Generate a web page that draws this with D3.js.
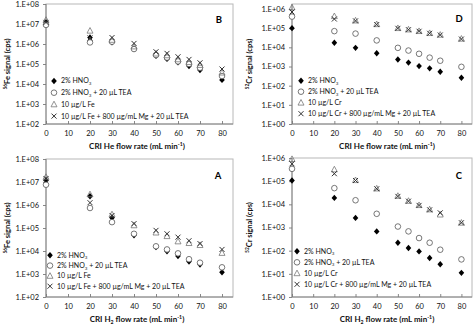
<!DOCTYPE html>
<meta charset="utf-8">
<script src="https://d3js.org/d3.v7.min.js"></script>
<style>
  body { margin: 0; background: #fff; }
  svg { font-family: Lato, "Open Sans", sans-serif; }
</style>
<div id="chart"></div>
<script>
// flow rates (mL/min) shared by every panel
const flow = [0, 20, 30, 40, 50, 55, 60, 65, 70, 80];

// 56Fe, He mode (panel B)
const feHeHno3 = [1.2e7, 2.1e6, 1.2e6, 5.8e5, 2.6e5, 1.8e5, 1.2e5, 8.0e4, 5.0e4, 1.6e4];
const feHeTea  = [9.0e6, 1.2e6, 1.3e6, 5.6e5, 2.8e5, 2.1e5, 1.35e5, 1.0e5, 6.5e4, 2.5e4];
const feHeStd  = [1.6e7, 4.6e6, 1.6e6, 7.5e5, 3.3e5, 2.7e5, 1.7e5, 1.25e5, 8.9e4, 3.7e4];
const feHeMg   = [1.2e7, 2.0e6, 2.1e6, 1.07e6, 4.1e5, 3.4e5, 2.3e5, 1.7e5, 1.15e5, 5.6e4];

// 52Cr, He mode (panel D)
const crHeHno3 = [1.0e5, 1.75e4, 9.4e3, 4.9e3, 2.3e3, 1.6e3, 1.05e3, 8.0e2, 5.3e2, 2.6e2];
const crHeTea  = [4.0e5, 7.0e4, 5.2e4, 2.3e4, 9.4e3, 6.8e3, 4.6e3, 2.9e3, 2.0e3, 9.6e2];
const crHeStd  = [1.2e6, 4.2e5, 2.5e5, 1.6e5, 1.0e5, 8.5e4, 7.0e4, 5.5e4, 4.5e4, 2.8e4];
const crHeMg   = [7.0e5, 3.0e5, 2.4e5, 1.55e5, 9.8e4, 8.3e4, 6.9e4, 5.4e4, 4.4e4, 2.7e4];

// 56Fe, H2 mode (panel A)
const feH2Hno3 = [1.2e7, 2.4e6, 2.8e5, 4.8e4, 1.5e4, 9.8e3, 6.0e3, 3.5e3, 2.6e3, 1.2e3];
const feH2Tea  = [7.6e6, 7.4e5, 1.8e5, 5.6e4, 1.6e4, 1.17e4, 7.9e3, 4.4e3, 3.1e3, 1.95e3];
const feH2Std  = [1.65e7, 2.9e6, 3.9e5, 1.3e5, 6.3e4, 4.4e4, 2.6e4, 2.2e4, 1.8e4, 8.2e3];
const feH2Mg   = [1.4e7, 1.26e6, 3.5e5, 1.55e5, 7.9e4, 5.6e4, 4.0e4, 2.8e4, 2.1e4, 1.17e4];

// 52Cr, H2 mode (panel C)
const crH2Hno3 = [1.07e5, 1.9e4, 2.6e3, 6.8e2, 2.2e2, 1.3e2, 9.3e1, 4.8e1, 2.6e1, 1.1e1];
const crH2Tea  = [3.4e5, 5.0e4, 1.5e4, 3.9e3, 1.1e3, 6.8e2, 3.5e2, 2.2e2, 1.1e2, 4.2e1];
const crH2Std  = [9.0e5, 3.2e5, 1.1e5, 4.8e4, 2.3e4, 1.4e4, 9.2e3, 6.0e3, 3.6e3, 1.6e3];
const crH2Mg   = [5.6e5, 2.1e5, 1.07e5, 4.7e4, 2.2e4, 1.37e4, 9.0e3, 5.8e3, 4.3e3, 1.6e3];

const xTicks = [0, 10, 20, 30, 40, 50, 60, 70, 80];
const feTicks = [1e2, 1e3, 1e4, 1e5, 1e6, 1e7, 1e8];
const crTicks = [1e0, 1e1, 1e2, 1e3, 1e4, 1e5, 1e6];

const feLegend = ["2% HNO_{3}", "2% HNO_{3} + 20 µL TEA", "10 µg/L Fe", "10 µg/L Fe + 800 µg/mL Mg + 20 µL TEA"];
const crLegend = ["2% HNO_{3}", "2% HNO_{3} + 20 µL TEA", "10 µg/L Cr", "10 µg/L Cr + 800 µg/mL Mg + 20 µL TEA"];
const markers = ["diamond", "circle", "triangle", "cross"];

const W = 474, H = 324;
const svg = d3.select("#chart").append("svg")
    .attr("width", W).attr("height", H);

// text with _{sub} and ^{sup} pieces; the baseline shift is undone on the next piece
function richText(sel, str, size) {
  const parts = str.split(/(_\{[^}]*\}|\^\{[^}]*\})/).filter(s => s.length);
  let shift = 0;
  parts.forEach(p => {
    let dy = 0, fs = size, txt = p;
    if (p.startsWith("_{")) { dy = size * 0.25; fs = size * 0.65; txt = p.slice(2, -1); }
    else if (p.startsWith("^{")) { dy = -size * 0.35; fs = size * 0.65; txt = p.slice(2, -1); }
    sel.append("tspan").attr("font-size", fs).attr("dy", dy - shift).text(txt);
    shift = dy;
  });
}

function drawMarker(g, type, x, y) {
  if (type === "diamond") {
    g.append("path").attr("d", `M${x},${y - 3.2}L${x + 2.8},${y}L${x},${y + 3.2}L${x - 2.8},${y}Z`)
      .attr("fill", "#000");
  } else if (type === "circle") {
    g.append("circle").attr("cx", x).attr("cy", y).attr("r", 2.8)
      .attr("fill", "#fff").attr("stroke", "#555").attr("stroke-width", 0.8);
  } else if (type === "triangle") {
    g.append("path").attr("d", `M${x},${y - 3.2}L${x + 3},${y + 2.4}L${x - 3},${y + 2.4}Z`)
      .attr("fill", "none").attr("stroke", "#777").attr("stroke-width", 0.8);
  } else {
    g.append("path").attr("d", `M${x - 2.5},${y - 2.5}L${x + 2.5},${y + 2.5}M${x + 2.5},${y - 2.5}L${x - 2.5},${y + 2.5}`)
      .attr("stroke", "#333").attr("stroke-width", 1);
  }
}

const powFmt = d => "1.E+" + String(Math.round(Math.log10(d))).padStart(2, "0");

const panels = [
  { id: "B", series: [feHeHno3, feHeTea, feHeStd, feHeMg], domain: [1e2, 1e8], ticks: feTicks,
    legend: feLegend, yTitle: "^{56}Fe signal (cps)", xTitle: "CRI He flow rate (mL min^{-1})",
    left: 46, right: 233, top: 4, bottom: 124, yMax: 4,
    titleX: 7, xTitleX: 137, xTitleY: 146, tag: [219, 19], leg: [54, 81, 11.7] },
  { id: "D", series: [crHeHno3, crHeTea, crHeStd, crHeMg], domain: [1, 1e6], ticks: crTicks,
    legend: crLegend, yTitle: "^{52}Cr signal (cps)", xTitle: "CRI He flow rate (mL min^{-1})",
    left: 292, right: 472, top: 4, bottom: 124, yMax: 9,
    titleX: 249, xTitleX: 387, xTitleY: 146, tag: [459, 18], leg: [301, 80.7, 11] },
  { id: "A", series: [feH2Hno3, feH2Tea, feH2Std, feH2Mg], domain: [1e2, 1e8], ticks: feTicks,
    legend: feLegend, yTitle: "^{56}Fe signal (cps)", xTitle: "CRI H_{2} flow rate (mL min^{-1})",
    left: 46, right: 233, top: 159, bottom: 297, yMax: 159,
    titleX: 7, xTitleX: 137, xTitleY: 319, tag: [218, 175], leg: [50, 255.3, 10.3] },
  { id: "C", series: [crH2Hno3, crH2Tea, crH2Std, crH2Mg], domain: [1, 1e6], ticks: crTicks,
    legend: crLegend, yTitle: "^{52}Cr signal (cps)", xTitle: "CRI H_{2} flow rate (mL min^{-1})",
    left: 292, right: 472, top: 158, bottom: 297, yMax: 158,
    titleX: 249, xTitleX: 387, xTitleY: 319, tag: [459, 175], leg: [297, 251.3, 11] }
];

panels.forEach(p => {
  const g = svg.append("g");
  const x = d3.scaleLinear().domain([0, 85]).range([p.left, p.right]);
  const y = d3.scaleLog().domain(p.domain).range([p.bottom, p.yMax]);

  // plot area border
  g.append("rect")
    .attr("x", p.left).attr("y", p.top)
    .attr("width", p.right - p.left).attr("height", p.bottom - p.top)
    .attr("fill", "#fff").attr("stroke", "#b8b8b8").attr("stroke-width", 1);

  // y axis
  const ya = g.append("g").attr("transform", `translate(${p.left},0)`)
    .call(d3.axisLeft(y).tickValues(p.ticks).tickFormat(powFmt).tickSize(3).tickSizeOuter(0).tickPadding(4));
  ya.select(".domain").attr("d", `M0,${p.top}V${p.bottom}`);

  // x axis
  const xa = g.append("g").attr("transform", `translate(0,${p.bottom})`)
    .call(d3.axisBottom(x).tickValues(xTicks).tickSizeInner(-3).tickSizeOuter(0).tickPadding(7));
  xa.select(".domain").attr("d", `M${p.left},0H${p.right}`);

  [ya, xa].forEach(a => {
    a.selectAll(".domain, line").attr("stroke", "#7a7a7a").attr("stroke-width", 0.9);
    a.selectAll("text").attr("font-size", 7.5).attr("fill", "#111").attr("font-family", "Lato, sans-serif");
  });

  // data points
  const pts = g.append("g");
  p.series.forEach((vals, i) => {
    vals.forEach((v, j) => drawMarker(pts, markers[i], x(flow[j]), y(v)));
  });

  // legend
  const [lx, ly, ldy] = p.leg;
  p.legend.forEach((lab, i) => {
    drawMarker(g, markers[i], lx, ly + i * ldy);
    const t = g.append("text").attr("x", lx + 7).attr("y", ly + i * ldy + 2.4)
      .attr("font-size", 7).attr("fill", "#111");
    richText(t, lab, 7);
  });

  // panel letter
  g.append("text").attr("x", p.tag[0]).attr("y", p.tag[1] + 3.5)
    .attr("text-anchor", "middle").attr("font-size", 9.5).attr("font-weight", "bold")
    .text(p.id);

  // axis titles
  const xt = g.append("text").attr("x", p.xTitleX).attr("y", p.xTitleY + 3)
    .attr("text-anchor", "middle").attr("font-size", 8).attr("font-weight", "bold").attr("fill", "#111");
  richText(xt, p.xTitle, 8);

  const midY = (p.top + p.bottom) / 2;
  const yt = g.append("text")
    .attr("transform", `translate(${p.titleX + 3},${midY}) rotate(-90)`)
    .attr("text-anchor", "middle").attr("font-size", 7.5).attr("font-weight", "bold").attr("fill", "#111");
  richText(yt, p.yTitle, 7.5);
});
</script>
